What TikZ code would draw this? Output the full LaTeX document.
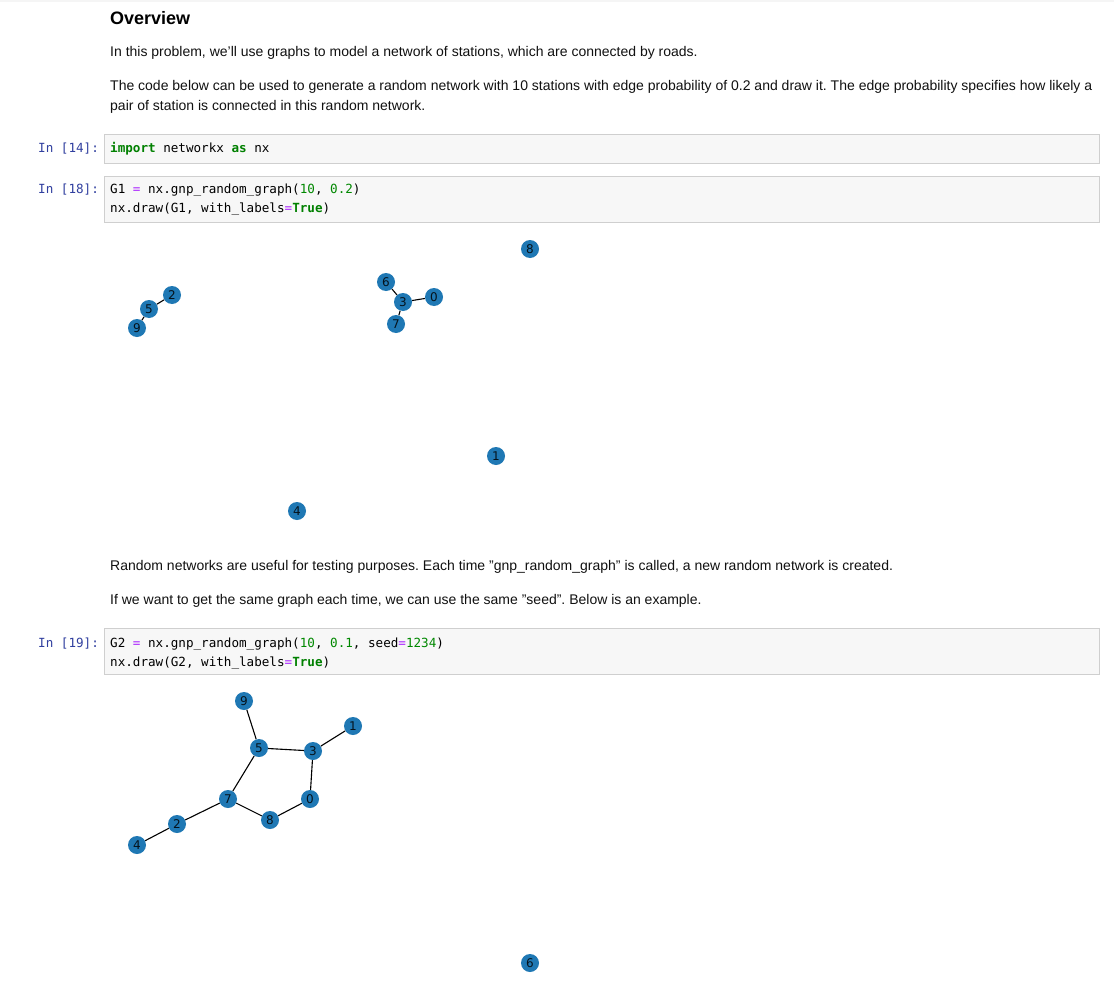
\documentclass[tikz,border=0pt]{standalone}
\usepackage{fontspec}
\setmainfont{Liberation Sans}
\setsansfont{DejaVu Sans}
\setmonofont{DejaVu Sans Mono}
\definecolor{nxblue}{HTML}{1F78B4}
\definecolor{kw}{HTML}{008000}
\definecolor{num}{HTML}{008800}
\definecolor{op}{HTML}{AA22FF}
\definecolor{prompt}{HTML}{303F9F}
\definecolor{cellbg}{HTML}{F7F7F7}
\definecolor{cellbd}{HTML}{CFCFCF}
\definecolor{bodytxt}{HTML}{111111}
\frenchspacing
\tikzset{
  gnode/.style={circle,fill=nxblue,minimum size=18pt,inner sep=0pt,text=black!85!nxblue,font=\sffamily\fontsize{12}{12}\selectfont},
  gedge/.style={draw=black,line width=1.1pt},
  cellbox/.style={draw=cellbd,fill=cellbg,line width=0.8pt},
  bodytext/.style={anchor=base west,inner sep=0pt,text=bodytxt,font=\fontsize{14}{17}\selectfont},
  codetext/.style={anchor=base west,inner sep=0pt,text=black,font=\ttfamily\fontsize{12.6}{15}\selectfont},
  prompttext/.style={anchor=base west,inner sep=0pt,text=prompt,font=\ttfamily\fontsize{12.6}{15}\selectfont},
}
\newcommand{\kwd}[1]{\textcolor{kw}{\bfseries #1}}
\newcommand{\nm}[1]{\textcolor{num}{#1}}
\newcommand{\opr}[1]{\textcolor{op}{#1}}
\newcommand{\dq}{\symbol{34}}
\newcommand{\sq}{\symbol{39}}
\begin{document}
\begin{tikzpicture}[x=1pt,y=-1pt]
\useasboundingbox (0,0) rectangle (1114,998);
\fill[white] (0,0) rectangle (1114,998);
\fill[black!4] (0,0) rectangle (1114,2);

% header text
\node[anchor=base west,inner sep=0pt,font=\bfseries\fontsize{18}{20}\selectfont] (title) at (110,24.5) {Overview};
\node[bodytext] (p1) at (110,56.5) {In this problem, we\sq ll use graphs to model a network of stations, which are connected by roads.};
\node[bodytext] (p2) at (110,90.5) {The code below can be used to generate a random network with 10 stations with edge probability of 0.2 and draw it. The edge probability specifies how likely a};
\node[bodytext] (p3) at (110,110.5) {pair of station is connected in this random network.};

% cell 1
\path[cellbox] (104.5,134.5) rectangle (1099.5,163.5);
\node[prompttext] (in14) at (38,152.5) {In [14]:};
\node[codetext] (c1) at (110,152.5) {\kwd{import} networkx \kwd{as} nx};

% cell 2
\path[cellbox] (104.5,176.5) rectangle (1099.5,222.5);
\node[prompttext] (in18) at (38,193.5) {In [18]:};
\node[codetext] (c2a) at (110,193.5) {G1 \opr{=} nx.gnp\_random\_graph(\nm{10}, \nm{0.2})};
\node[codetext] (c2b) at (110,212.5) {nx.draw(G1, with\_labels\opr{=}\kwd{True})};

% graph 1
\node[gnode] (a8) at (530,249) {8};
\node[gnode] (a6) at (386,282) {6};
\node[gnode] (a3) at (403,302) {3};
\node[gnode] (a0) at (434,297) {0};
\node[gnode] (a7) at (396,324) {7};
\node[gnode] (a2) at (172,295) {2};
\node[gnode] (a5) at (149,309) {5};
\node[gnode] (a9) at (137,328) {9};
\node[gnode] (a1) at (496,456) {1};
\node[gnode] (a4) at (297,511) {4};
\draw[gedge] (a2) -- (a5);
\draw[gedge] (a5) -- (a9);
\draw[gedge] (a6) -- (a3);
\draw[gedge] (a3) -- (a0);
\draw[gedge] (a3) -- (a7);

% middle text
\node[bodytext] (p4) at (110,570.5) {Random networks are useful for testing purposes. Each time \dq gnp\_random\_graph\dq{} is called, a new random network is created.};
\node[bodytext] (p5) at (110,604.5) {If we want to get the same graph each time, we can use the same \dq seed\dq. Below is an example.};

% cell 3
\path[cellbox] (104.5,628.5) rectangle (1099.5,674.5);
\node[prompttext] (in19) at (38,647.5) {In [19]:};
\node[codetext] (c3a) at (110,647.5) {G2 \opr{=} nx.gnp\_random\_graph(\nm{10}, \nm{0.1}, seed\opr{=}\nm{1234})};
\node[codetext] (c3b) at (110,666.5) {nx.draw(G2, with\_labels\opr{=}\kwd{True})};

% graph 2
\node[gnode] (b9) at (244,701) {9};
\node[gnode] (b1) at (353,726) {1};
\node[gnode] (b5) at (259,748) {5};
\node[gnode] (b3) at (313,751) {3};
\node[gnode] (b7) at (228,799) {7};
\node[gnode] (b0) at (310,799) {0};
\node[gnode] (b8) at (270,820) {8};
\node[gnode] (b2) at (177,824) {2};
\node[gnode] (b4) at (137,845) {4};
\node[gnode] (b6) at (530,963) {6};
\draw[gedge] (b9) -- (b5);
\draw[gedge] (b5) -- (b3);
\draw[gedge] (b3) -- (b1);
\draw[gedge] (b3) -- (b0);
\draw[gedge] (b5) -- (b7);
\draw[gedge] (b7) -- (b8);
\draw[gedge] (b8) -- (b0);
\draw[gedge] (b7) -- (b2);
\draw[gedge] (b2) -- (b4);
\end{tikzpicture}
\end{document}
